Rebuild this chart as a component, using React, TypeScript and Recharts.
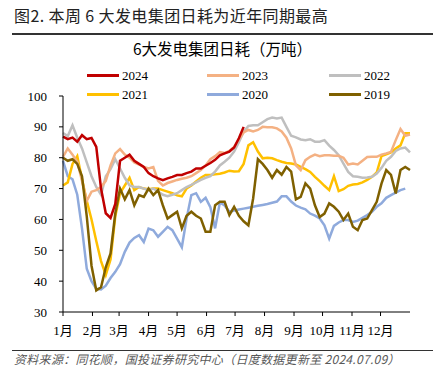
import React from "react";
import { LineChart, Line, XAxis, YAxis } from "recharts";

// day of year, every 5 days
const days = [
  0, 5, 10, 15, 20, 25, 30, 35, 40, 45, 50, 55, 60, 65, 70, 75, 80, 85, 90, 95,
  100, 105, 110, 115, 120, 125, 130, 135, 140, 145, 150, 155, 160, 165, 170, 175,
  180, 185, 190, 195, 200, 205, 210, 215, 220, 225, 230, 235, 240, 245, 250, 255,
  260, 265, 270, 275, 280, 285, 290, 295, 300, 305, 310, 315, 320, 325, 330, 335,
  340, 345, 350, 355, 360, 365,
];

const monthTicks = [0, 31, 59, 90, 120, 151, 181, 212, 243, 273, 304, 334];
const monthLabels = ["1月", "2月", "3月", "4月", "5月", "6月", "7月", "8月", "9月", "10月", "11月", "12月"];
const yTicks = [30, 40, 50, 60, 70, 80, 90, 100];

const y2024 = [
  86.8, 86, 86.5, 85.2, 87.3, 86, 86.4, 83.5, 70, 62, 60.5, 65, 79, 80, 81, 79, 78, 77, 75, 74,
  73.3, 72.7, 73.3, 73.8, 74.4, 74.4, 75, 75.5, 76.5, 76.5, 77.4, 78.3, 79.3, 80.8, 81.4, 82,
  83.3, 86.3, 90,
];
const y2023 = [
  80.3, 83, 81, 78.7, 72.5, 66, 69, 69.5, 70.5, 72.5, 77.5, 81.4, 82.8, 81, 80, 78.5, 77.8, 77,
  76.5, 77, 72.5, 71, 71.8, 72.3, 72.8, 73.2, 73.5, 74, 75, 76, 77.5, 79.5, 80.5, 81.8, 81.5,
  82.2, 83.5, 86, 88.2, 89, 88.5, 89, 90, 89.9, 89.9, 89.5, 88.5, 86.5, 83, 77.5, 76, 79.2,
  80.3, 81, 80.5, 80.8, 80.8, 80.6, 80.6, 80, 77.8, 78.1, 77.8, 79, 80.2, 80.3, 80.3, 81,
  81.4, 81.9, 85.7, 89.3, 87.1, 87.5,
];
const y2022 = [
  88, 87, 90.5, 86.5, 83, 78.5, 74, 70.5, 68, 74, 76.3, 79.5, 76.5, 73.5, 71, 70.5, 70.5, 70,
  69.5, 70, 69, 68, 67.5, 68, 68.5, 69.5, 70.5, 71.2, 72, 72.8, 73.5, 74, 75.5, 77.5, 78.7, 80,
  82, 85, 88.4, 90.3, 90.5, 90.5, 91.5, 92.5, 93, 92.7, 93, 90, 87.1, 86.6, 85.9, 85.7, 86,
  85.2, 85.2, 85.7, 83.9, 82.5, 80.8, 78.1, 75.4, 74, 73.8, 73.5, 73.6, 73.8, 74.9, 76.7, 79,
  80.3, 82.2, 83, 83.3, 81.7,
];
const y2021 = [
  71, 72, 78, 80.5, 73, 66, 60, 53, 46.5, 42, 47, 61, 68.5, 71, 73.5, 69.5, 70.5, 70, 69.8, 70,
  70, 69.5, 69, 68.5, 67.8, 67.5, 70, 71, 72.3, 73.5, 74.4, 74.4, 74.6, 74.8, 75.2, 75.8, 75.5,
  75.6, 78, 84, 85, 82, 79.8, 80, 79.8, 79.2, 78.7, 78.3, 78.1, 77.8, 77, 76.3, 75.4, 73.8,
  72.4, 70.9, 69.5, 74, 69.2, 69.8, 70.9, 71.3, 71.5, 72, 72.8, 73.8, 75.2, 80.5, 81.1, 81.7,
  83, 84, 87.9, 87.9,
];
const y2020 = [
  79, 74, 73, 68, 57, 44, 40, 37.5, 37.3, 38.5, 41, 43, 45.5, 49.5, 52.5, 54, 54.9, 52.7, 57,
  56.5, 54.4, 56, 57.6, 56.5, 53.8, 51, 60.3, 67.9, 68.5, 65.7, 67, 64, 57.1, 65.5, 64.5, 62.5,
  62.9, 63.2, 63.5, 63.8, 64.1, 64.4, 64.7, 65, 65.4, 65.8, 67.5, 67.5, 65.8, 64.5, 63.8, 63.3,
  61.9, 61.2, 60.3, 58.1, 53.8, 57.9, 59, 59.8, 59.8, 59.2, 59.6, 60.5, 61.4, 62.5, 64.1, 65.2,
  67, 67.9, 68.7, 69.5, 70,
];
const y2019 = [
  80, 79, 79.5, 78, 74, 61, 45, 37, 38, 44.5, 49, 62, 70, 66.5, 69.5, 64.6, 67.9, 67.3, 70,
  67.9, 69.5, 64.6, 60.3, 61.4, 62.5, 57.1, 61.2, 62.5, 61.2, 60.3, 56, 56, 64.6, 65.7, 65.7,
  61.4, 64.1, 61.2, 59.4, 58.1, 66.8, 79.5, 78, 76, 73.5, 76, 74.5, 77, 75.5, 66.5, 67.3, 71.7,
  70, 64.6, 60.8, 61.9, 65.2, 64.1, 62.5, 59.8, 61.9, 57.6, 56.5, 59.8, 60.3, 63, 65.7, 71.6,
  76, 74.4, 68.4, 76, 77, 76,
];

const series = [
  { name: "2024", color: "#C00000", values: y2024 },
  { name: "2023", color: "#F4B183", values: y2023 },
  { name: "2022", color: "#BFBFBF", values: y2022 },
  { name: "2021", color: "#FFC000", values: y2021 },
  { name: "2020", color: "#8FAADC", values: y2020 },
  { name: "2019", color: "#7F6000", values: y2019 },
];

const drawOrder = ["2020", "2021", "2022", "2023", "2019", "2024"];

const rows = days.map((day, i) => {
  const row: Record<string, number | null> = { day };
  series.forEach((s) => {
    row[s.name] = s.values[i] ?? null;
  });
  return row;
});

const serif = "'Times New Roman', 'Liberation Serif', 'Noto Sans CJK SC', serif";
const cjk = "'Noto Sans CJK SC', 'Liberation Sans', sans-serif";

const legendCols = [87, 207, 329];
const legendRows = [75.5, 94.5];

export default function App() {
  return (
    <div
      style={{
        position: "absolute",
        left: 0,
        top: 0,
        width: 445,
        height: 376,
        background: "#fff",
        overflow: "hidden",
      }}
    >
      <div
        style={{
          position: "absolute",
          left: 14,
          top: 3,
          fontFamily: cjk,
          fontSize: 16,
          color: "#222",
          whiteSpace: "nowrap",
          letterSpacing: 0.4,
        }}
      >
        图2. 本周 6 大发电集团日耗为近年同期最高
      </div>
      <div
        style={{
          position: "absolute",
          left: 12,
          top: 33,
          width: 421,
          height: 2,
          background: "#333",
        }}
      />

      <div
        style={{
          position: "absolute",
          left: 0,
          width: 445,
          top: 37,
          textAlign: "center",
          fontFamily: cjk,
          fontSize: 15.5,
          color: "#000",
          whiteSpace: "nowrap",
        }}
      >
        6大发电集团日耗（万吨）
      </div>

      <LineChart
        width={445}
        height={376}
        data={rows}
        margin={{ top: 96, right: 35, bottom: 34, left: 13 }}
        style={{ position: "absolute", left: 0, top: 0 }}
      >
        <XAxis
          dataKey="day"
          type="number"
          domain={[0, 365]}
          ticks={monthTicks}
          interval={0}
          height={30}
          tickSize={4}
          tickMargin={10}
          tickFormatter={(v: number) => monthLabels[monthTicks.indexOf(v)]}
          axisLine={{ stroke: "#000" }}
          tickLine={{ stroke: "#000" }}
          tick={{ fill: "#000", fontSize: 13, fontFamily: serif }}
        />
        <YAxis
          type="number"
          domain={[30, 100]}
          ticks={yTicks}
          interval={0}
          width={50}
          tickSize={4}
          tickMargin={12}
          axisLine={{ stroke: "#000" }}
          tickLine={{ stroke: "#000" }}
          tick={{ fill: "#000", fontSize: 13, fontFamily: serif }}
        />
        {drawOrder.map((name) => {
          const s = series.find((x) => x.name === name)!;
          return (
            <Line
              key={name}
              dataKey={name}
              type="linear"
              stroke={s.color}
              strokeWidth={2.5}
              dot={false}
              activeDot={false}
              isAnimationActive={false}
            />
          );
        })}
      </LineChart>

      {series.map((s, i) => {
        const left = legendCols[i % 3];
        const cy = legendRows[Math.floor(i / 3)];
        return (
          <div
            key={s.name}
            style={{
              position: "absolute",
              left,
              top: cy - 9,
              height: 18,
              display: "flex",
              alignItems: "center",
              fontFamily: serif,
              fontSize: 13,
              color: "#000",
            }}
          >
            <div style={{ width: 32, height: 3, background: s.color, marginRight: 3 }} />
            <span>{s.name}</span>
          </div>
        );
      })}

      <div
        style={{
          position: "absolute",
          left: 12,
          top: 350,
          width: 421,
          height: 1,
          background: "#333",
        }}
      />
      <div
        style={{
          position: "absolute",
          left: 14,
          top: 350,
          fontFamily: cjk,
          fontSize: 12,
          fontStyle: "italic",
          color: "#595959",
          whiteSpace: "nowrap",
          letterSpacing: 0.3,
        }}
      >
        资料来源：同花顺，国投证券研究中心（日度数据更新至 2024.07.09）
      </div>
    </div>
  );
}
